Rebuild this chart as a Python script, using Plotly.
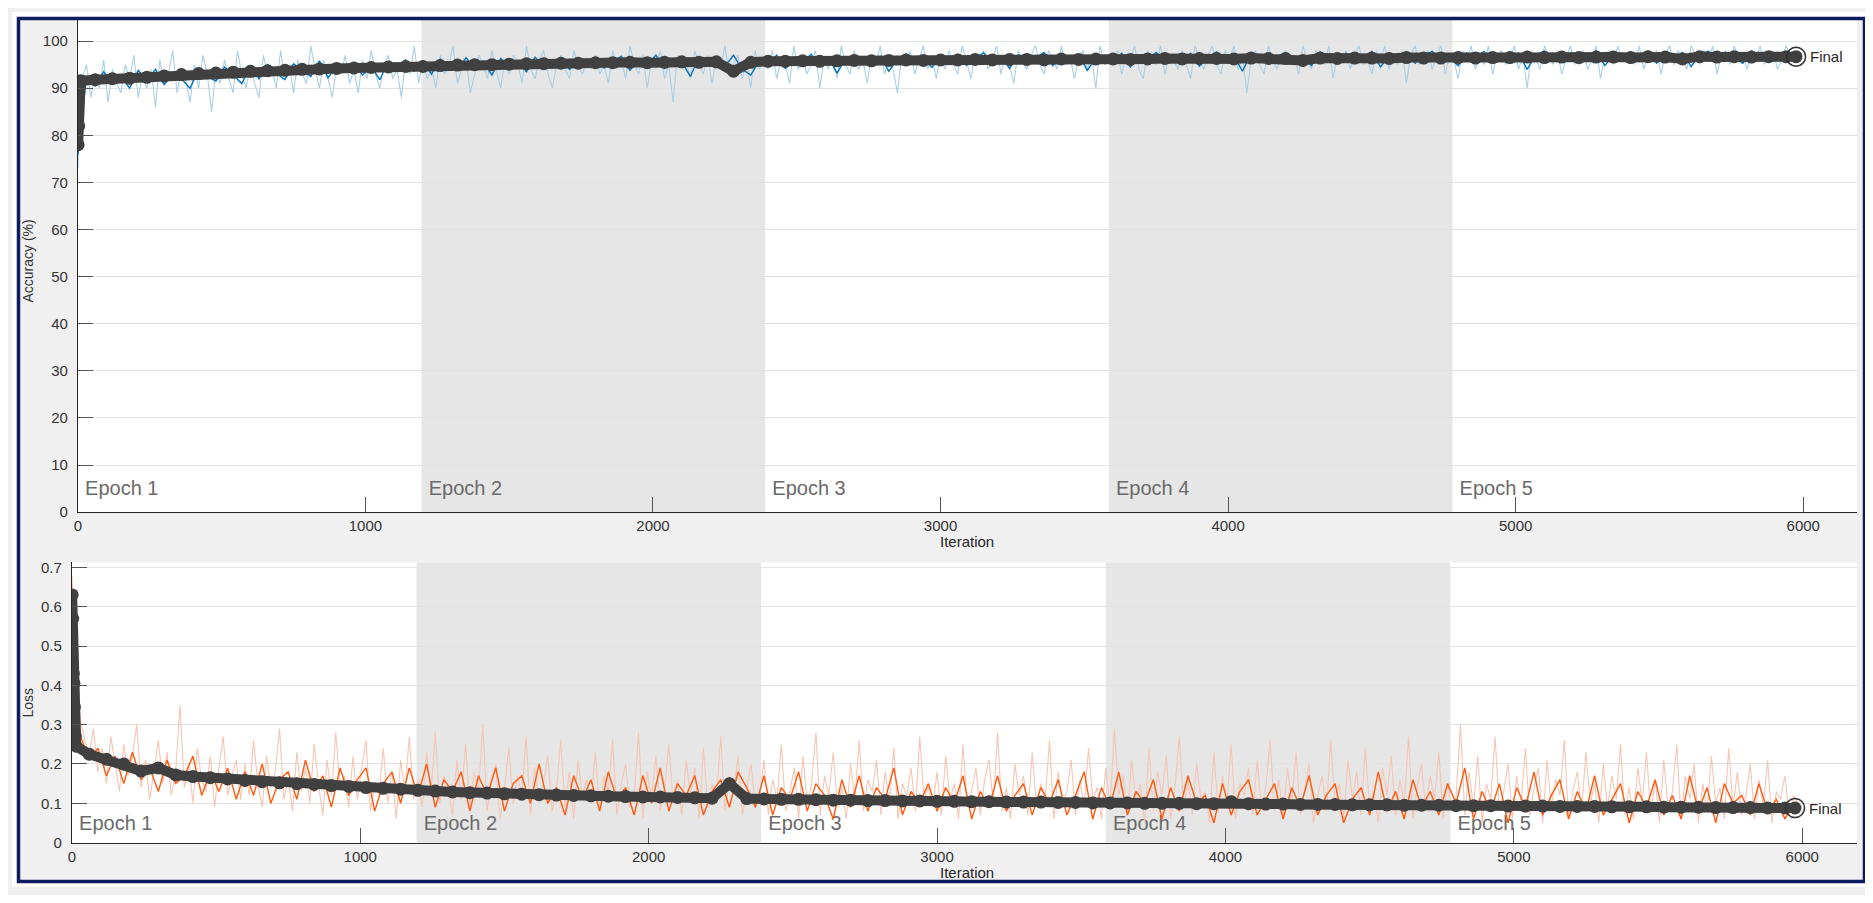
import plotly.graph_objects as go

# confini delle epoche (iterazioni)
epoch_start = [0, 1195, 2390, 3585, 4780]
epoch_end = 5975
epoch_names = ['Epoch 1', 'Epoch 2', 'Epoch 3', 'Epoch 4', 'Epoch 5']
raw_step = 15
smooth_step = 30

# accuratezza mini-batch (grezza), una ogni 15 iterazioni
acc_raw = [
    73, 92, 95, 88, 93, 90, 96, 87, 94, 91, 89, 95, 92, 97, 88, 93, 90, 94, 86, 96,
    91, 93, 98, 89, 94, 92, 87, 95, 90, 97, 93, 85, 94, 91, 96, 92, 89, 98, 93, 90,
    95, 91, 88, 97, 93, 94, 90, 98, 92, 95, 89, 96, 93, 91, 99, 94, 90, 96, 92, 88,
    95, 93, 97, 91, 94, 89, 96, 92, 98, 93, 90, 95, 97, 92, 94, 88, 96, 93, 99, 91,
    96, 92, 94, 90, 97, 93, 95, 99, 91, 94, 96, 89, 93, 97, 95, 92, 98, 94, 90, 96,
    93, 97, 95, 91, 99, 94, 92, 96, 98, 93, 90, 95, 97, 94, 92, 98, 95, 93, 96, 94,
    97, 93, 95, 91, 98, 94, 96, 92, 99, 95, 93, 97, 90, 96, 94, 98, 92, 95, 87, 97,
    94, 96, 92, 98, 95, 93, 97, 91, 96, 94, 99, 93, 95, 97, 92, 96, 90, 98, 94, 96,
    94, 98, 92, 96, 95, 91, 99, 94, 97, 93, 95, 98, 90, 96, 94, 97, 92, 99, 95, 93,
    98, 94, 96, 91, 97, 95, 99, 93, 96, 94, 89, 97, 95, 98, 93, 96, 99, 94, 97, 92,
    97, 94, 98, 95, 93, 99, 96, 92, 97, 95, 98, 94, 96, 99, 93, 97, 95, 91, 98, 96,
    94, 97, 99, 95, 93, 98, 96, 94, 99, 95, 97, 92, 96, 98, 94, 97, 90, 99, 95, 96,
    95, 98, 93, 97, 96, 99, 94, 92, 98, 96, 95, 99, 93, 97, 96, 94, 98, 95, 92, 99,
    96, 94, 97, 99, 95, 93, 98, 96, 99, 94, 97, 89, 96, 98, 95, 93, 99, 96, 94, 97,
    98, 95, 97, 93, 99, 96, 94, 98, 97, 95, 99, 92, 97, 96, 98, 94, 97, 99, 95, 96,
    93, 98, 96, 99, 94, 97, 95, 98, 91, 97, 99, 95, 96, 98, 94, 97, 99, 93, 97, 96,
    92, 98, 96, 99, 94, 97, 95, 99, 93, 97, 98, 95, 96, 99, 94, 97, 90, 98, 96, 94,
    99, 97, 95, 98, 93, 96, 99, 95, 97, 98, 94, 96, 99, 92, 97, 98, 95, 99, 96, 97,
    98, 95, 99, 94, 97, 96, 98, 93, 97, 99, 95, 98, 96, 94, 99, 97, 95, 98, 96, 99,
    93, 97, 98, 95, 99, 96, 97, 94, 98, 96, 99, 95, 97, 98, 94, 96, 99, 97, 96, 97,
]

# accuratezza mini-batch (smussata), una ogni 30 iterazioni
acc_smooth = [
    76, 92.5, 90.5, 93.5, 91, 92.5, 90, 93.8, 91.5, 94, 90.8, 93, 92, 90, 94, 92.5, 91.5, 94.5, 92.8, 91,
    94.5, 92, 95, 93.2, 91.8, 95.2, 93.8, 92.5, 95.8, 92.2, 94.8, 93.5, 95.5, 92.8, 94.6, 91.8, 95.6, 94, 96, 93.6,
    95.8, 93, 96.2, 94.5, 93.8, 96.5, 94.2, 95.6, 92.8, 96.3, 94.8, 95.9, 93.5, 96.6, 94.5, 95.5, 96.4, 94, 96, 95,
    96.5, 94.3, 95.6, 96.8, 93.8, 96.2, 95, 97, 94.2, 96, 95.6, 92.5, 96.5, 94.8, 96.2, 94.6, 97, 94, 92.8, 95.8,
    95, 97, 94.2, 96.2, 95.6, 97.2, 94.6, 96.6, 93.2, 96.3, 97, 95, 95.8, 96.8, 93.6, 96.2, 97.3, 95.2, 96.4, 94.4,
    96.8, 95.6, 97.2, 94.8, 96.4, 97.5, 95.4, 96.9, 94.2, 97.1, 95.8, 96.5, 97.6, 94.8, 96.9, 95.7, 97.3, 93.8, 96.4, 96.9,
    95.8, 97.4, 94.5, 96.9, 96.2, 97.6, 95.3, 96.9, 95.9, 97.4, 94.7, 96.5, 97.7, 95.8, 96.9, 93.6, 97.4, 96.3, 95.2, 96.9,
    97.4, 95.9, 96.9, 94.8, 97.7, 96.4, 95.4, 97.4, 96.9, 95.9, 97.8, 94.5, 96.9, 96.4, 97.5, 95.3, 96.9, 97.8, 95.9, 96.5,
    94.8, 97.5, 96.5, 97.8, 95.3, 97, 96, 97.5, 94, 97, 97.9, 95.9, 96.5, 97.5, 95.2, 97, 97.9, 94.8, 97, 96.5,
    97.5, 96, 97.9, 95.3, 97, 96.5, 97.6, 94.6, 97, 97.9, 96, 97.6, 96.5, 95.3, 97.9, 97, 96, 97.6, 96.5, 96.8,
]

# accuratezza di validazione
acc_val_iter = [1, 3, 10] + list(range(60, 5941, 60)) + [5975]
acc_val = [
    78, 82, 91.6,
    91.8, 92.0, 92.1, 92.3, 92.6, 92.9, 93.1, 93.2, 93.4, 93.6, 93.7, 93.8, 94.0, 94.1, 94.2, 94.3, 94.4, 94.5, 94.6,
    94.6, 94.8, 94.9, 95.0, 95.0, 95.1, 95.2, 95.2, 95.3, 95.3, 95.4, 95.4, 95.5, 95.4, 95.5, 95.6, 95.5, 95.6, 93.6, 95.5,
    95.7, 95.7, 95.8, 95.7, 95.8, 95.9, 95.8, 95.9, 96.0, 95.9, 96.0, 96.0, 96.1, 96.0, 96.1, 96.1, 96.0, 96.2, 96.1, 96.2,
    96.2, 96.1, 96.2, 96.3, 96.2, 96.3, 96.3, 96.2, 96.4, 96.3, 96.3, 95.9, 96.4, 96.3, 96.4, 96.4, 96.3, 96.5, 96.4, 96.4,
    96.5, 96.4, 96.5, 96.5, 96.6, 96.5, 96.6, 96.5, 96.6, 96.6, 96.5, 96.7, 96.6, 96.2, 96.7, 96.6, 96.7, 96.6, 96.7, 96.7,
    96.7,
]

# loss mini-batch (grezza), una ogni 15 iterazioni
loss_raw = [
    0.68, 0.45, 0.31, 0.26, 0.22, 0.29, 0.18, 0.24, 0.15, 0.27, 0.20, 0.13, 0.25, 0.17, 0.22, 0.30, 0.14, 0.21, 0.11, 0.19,
    0.26, 0.15, 0.23, 0.12, 0.18, 0.35, 0.14, 0.20, 0.10, 0.24, 0.16, 0.13, 0.22, 0.09, 0.19, 0.27, 0.12, 0.17, 0.21, 0.11,
    0.20, 0.12, 0.26, 0.15, 0.09, 0.22, 0.14, 0.18, 0.29, 0.11, 0.16, 0.08, 0.23, 0.13, 0.19, 0.10, 0.25, 0.15, 0.07, 0.21,
    0.12, 0.28, 0.14, 0.17, 0.09, 0.22, 0.11, 0.19, 0.26, 0.08, 0.15, 0.12, 0.24, 0.10, 0.18, 0.06, 0.21, 0.13, 0.27, 0.11,
    0.16, 0.09, 0.23, 0.12, 0.28, 0.10, 0.17, 0.14, 0.07, 0.21, 0.11, 0.25, 0.09, 0.18, 0.13, 0.30, 0.08, 0.16, 0.20, 0.06,
    0.14, 0.24, 0.10, 0.17, 0.12, 0.27, 0.07, 0.19, 0.11, 0.15, 0.22, 0.08, 0.13, 0.26, 0.09, 0.18, 0.06, 0.21, 0.12, 0.16,
    0.10, 0.23, 0.08, 0.17, 0.13, 0.26, 0.07, 0.15, 0.20, 0.09, 0.12, 0.28, 0.06, 0.18, 0.11, 0.22, 0.08, 0.14, 0.25, 0.10,
    0.16, 0.07, 0.21, 0.12, 0.19, 0.06, 0.24, 0.09, 0.15, 0.11, 0.27, 0.08, 0.17, 0.13, 0.22, 0.07, 0.14, 0.20, 0.09, 0.12,
    0.21, 0.07, 0.16, 0.11, 0.25, 0.08, 0.13, 0.19, 0.06, 0.22, 0.10, 0.15, 0.28, 0.07, 0.17, 0.12, 0.23, 0.09, 0.14, 0.06,
    0.20, 0.11, 0.26, 0.08, 0.16, 0.13, 0.21, 0.07, 0.18, 0.10, 0.24, 0.06, 0.15, 0.12, 0.19, 0.08, 0.27, 0.11, 0.14, 0.09,
    0.18, 0.07, 0.22, 0.11, 0.15, 0.06, 0.25, 0.09, 0.13, 0.19, 0.07, 0.16, 0.21, 0.10, 0.28, 0.08, 0.14, 0.06, 0.20, 0.12,
    0.17, 0.07, 0.23, 0.09, 0.15, 0.11, 0.26, 0.06, 0.18, 0.10, 0.13, 0.21, 0.07, 0.16, 0.09, 0.24, 0.11, 0.14, 0.06, 0.19,
    0.09, 0.29, 0.12, 0.17, 0.07, 0.21, 0.10, 0.15, 0.05, 0.24, 0.08, 0.18, 0.12, 0.22, 0.06, 0.14, 0.27, 0.09, 0.16, 0.07,
    0.20, 0.11, 0.13, 0.05, 0.23, 0.08, 0.17, 0.10, 0.25, 0.06, 0.15, 0.12, 0.19, 0.07, 0.21, 0.09, 0.14, 0.26, 0.08, 0.16,
    0.06, 0.19, 0.10, 0.23, 0.07, 0.14, 0.20, 0.05, 0.12, 0.17, 0.08, 0.26, 0.10, 0.15, 0.06, 0.21, 0.11, 0.18, 0.07, 0.24,
    0.09, 0.13, 0.05, 0.19, 0.12, 0.22, 0.07, 0.16, 0.10, 0.27, 0.06, 0.14, 0.20, 0.08, 0.17, 0.11, 0.23, 0.06, 0.15, 0.09,
    0.12, 0.30, 0.07, 0.18, 0.09, 0.22, 0.05, 0.15, 0.11, 0.27, 0.08, 0.13, 0.20, 0.06, 0.17, 0.10, 0.24, 0.07, 0.14, 0.19,
    0.05, 0.21, 0.09, 0.16, 0.12, 0.26, 0.06, 0.13, 0.18, 0.08, 0.23, 0.10, 0.15, 0.05, 0.20, 0.09, 0.17, 0.11, 0.25, 0.07,
    0.14, 0.06, 0.19, 0.10, 0.23, 0.07, 0.16, 0.05, 0.21, 0.09, 0.13, 0.25, 0.06, 0.17, 0.11, 0.20, 0.05, 0.15, 0.08, 0.22,
    0.10, 0.14, 0.06, 0.24, 0.09, 0.18, 0.07, 0.12, 0.20, 0.06, 0.16, 0.09, 0.21, 0.05, 0.13, 0.11, 0.17, 0.07, 0.12, 0.10,
]

# loss mini-batch (smussata), una ogni 30 iterazioni
loss_smooth = [
    0.62, 0.27, 0.21, 0.24, 0.17, 0.22, 0.15, 0.23, 0.16, 0.19, 0.13, 0.21, 0.15, 0.17, 0.22, 0.12, 0.18, 0.13, 0.19, 0.11,
    0.18, 0.12, 0.20, 0.10, 0.16, 0.18, 0.11, 0.21, 0.13, 0.17, 0.09, 0.19, 0.12, 0.16, 0.19, 0.08, 0.15, 0.18, 0.10, 0.19,
    0.12, 0.20, 0.09, 0.16, 0.13, 0.18, 0.08, 0.17, 0.12, 0.19, 0.08, 0.15, 0.17, 0.10, 0.20, 0.10, 0.14, 0.07, 0.17, 0.11,
    0.16, 0.08, 0.18, 0.11, 0.14, 0.07, 0.17, 0.10, 0.19, 0.08, 0.15, 0.12, 0.17, 0.07, 0.13, 0.16, 0.09, 0.18, 0.14, 0.09,
    0.17, 0.07, 0.14, 0.11, 0.18, 0.08, 0.15, 0.12, 0.06, 0.16, 0.09, 0.17, 0.08, 0.14, 0.11, 0.19, 0.07, 0.13, 0.10, 0.15,
    0.08, 0.14, 0.10, 0.17, 0.06, 0.13, 0.09, 0.17, 0.08, 0.12, 0.15, 0.07, 0.14, 0.10, 0.16, 0.07, 0.12, 0.18, 0.06, 0.14,
    0.09, 0.18, 0.07, 0.13, 0.10, 0.16, 0.06, 0.14, 0.08, 0.17, 0.10, 0.12, 0.05, 0.15, 0.07, 0.13, 0.16, 0.07, 0.11, 0.15,
    0.06, 0.14, 0.09, 0.17, 0.07, 0.12, 0.15, 0.05, 0.11, 0.14, 0.07, 0.18, 0.08, 0.13, 0.06, 0.16, 0.09, 0.13, 0.07, 0.15,
    0.10, 0.19, 0.06, 0.13, 0.08, 0.15, 0.05, 0.14, 0.09, 0.18, 0.07, 0.12, 0.16, 0.06, 0.13, 0.08, 0.17, 0.07, 0.11, 0.15,
    0.05, 0.13, 0.09, 0.16, 0.07, 0.12, 0.06, 0.17, 0.08, 0.14, 0.05, 0.15, 0.10, 0.12, 0.07, 0.15, 0.08, 0.11, 0.06, 0.10,
]

# loss di validazione
loss_val_iter = [1, 3, 5, 7, 9, 12, 15] + list(range(60, 5941, 60)) + [5975]
loss_val = [
    0.63, 0.57, 0.43, 0.405, 0.345, 0.27, 0.245,
    0.225, 0.212, 0.200, 0.182, 0.190, 0.172, 0.168, 0.165, 0.162, 0.158, 0.155, 0.152, 0.150, 0.148, 0.145, 0.143, 0.140, 0.138, 0.136,
    0.133, 0.131, 0.129, 0.127, 0.126, 0.124, 0.123, 0.122, 0.121, 0.120, 0.119, 0.118, 0.117, 0.116, 0.116, 0.115, 0.114, 0.113, 0.150, 0.112,
    0.111, 0.110, 0.110, 0.109, 0.108, 0.108, 0.107, 0.107, 0.106, 0.106, 0.105, 0.105, 0.104, 0.104, 0.103, 0.103, 0.103, 0.102, 0.102, 0.101,
    0.101, 0.101, 0.100, 0.100, 0.100, 0.099, 0.099, 0.104, 0.099, 0.098, 0.098, 0.097, 0.097, 0.097, 0.096, 0.096, 0.096, 0.095, 0.095, 0.095,
    0.094, 0.094, 0.094, 0.093, 0.093, 0.093, 0.092, 0.092, 0.092, 0.091, 0.091, 0.091, 0.090, 0.090, 0.090, 0.089, 0.089, 0.089, 0.088, 0.088,
    0.088,
]

x_ticks = [0, 1000, 2000, 3000, 4000, 5000, 6000]
acc_ticks = [0, 10, 20, 30, 40, 50, 60, 70, 80, 90, 100]
loss_ticks = [0, 0.1, 0.2, 0.3, 0.4, 0.5, 0.6, 0.7]

# la pagina ha 8 px di margine: la figura occupa il resto della finestra
OFF = 8
W, H = 1873 - 2 * OFF, 903 - 2 * OFF
FONT = 'Liberation Sans, Arial, sans-serif'
DARK = '#404040'


def px(x):
    return (x - OFF) / W


def py(y):
    return 1 - (y - OFF) / H


fig = go.Figure()

# pannello superiore (accuratezza) e inferiore (loss)
panels = [
    dict(xa='x', ya='y', raw=acc_raw, smooth=acc_smooth, vx=acc_val_iter, vy=acc_val,
         light='#a9cfe6', strong='#0072bd', label_y=4.6),
    dict(xa='x2', ya='y2', raw=loss_raw, smooth=loss_smooth, vx=loss_val_iter, vy=loss_val,
         light='#f6c5b3', strong='#ff5a0f', label_y=0.044),
]

for p in panels:
    # etichette delle epoche dietro ai dati
    fig.add_trace(go.Scatter(
        x=[s + 25 for s in epoch_start], y=[p['label_y']] * len(epoch_start),
        mode='text', text=epoch_names, textposition='middle right',
        textfont=dict(family=FONT, size=20, color='#6a6a6a'),
        xaxis=p['xa'], yaxis=p['ya'], showlegend=False, hoverinfo='skip'))
    fig.add_trace(go.Scatter(
        x=list(range(0, raw_step * len(p['raw']), raw_step)), y=p['raw'],
        mode='lines', line=dict(color=p['light'], width=1.1),
        xaxis=p['xa'], yaxis=p['ya'], showlegend=False))
    fig.add_trace(go.Scatter(
        x=list(range(0, smooth_step * len(p['smooth']), smooth_step)), y=p['smooth'],
        mode='lines', line=dict(color=p['strong'], width=1.4),
        xaxis=p['xa'], yaxis=p['ya'], showlegend=False))
    fig.add_trace(go.Scatter(
        x=p['vx'], y=p['vy'], mode='lines+markers',
        line=dict(color=DARK, width=10), marker=dict(color=DARK, size=13),
        xaxis=p['xa'], yaxis=p['ya'], showlegend=False))
    # punto finale
    fig.add_trace(go.Scatter(
        x=[p['vx'][-1]], y=[p['vy'][-1]], mode='markers',
        marker=dict(symbol='circle-open', size=19, color='#303030', line=dict(width=1.5)),
        xaxis=p['xa'], yaxis=p['ya'], showlegend=False))
    fig.add_annotation(x=p['vx'][-1], y=p['vy'][-1], xref=p['xa'], yref=p['ya'],
                       text='Final', showarrow=False, xanchor='left', yanchor='middle', xshift=12,
                       font=dict(family=FONT, size=15, color='#262626'))

# zone grigie per le epoche pari
shapes = []
for xa, ya in [('x', 'y'), ('x2', 'y2')]:
    for i in [1, 3]:
        end = epoch_start[i + 1] if i + 1 < len(epoch_start) else epoch_end
        shapes.append(dict(type='rect', xref=xa, yref=ya + ' domain', x0=epoch_start[i], x1=end,
                           y0=0, y1=1, fillcolor='#e6e6e6', line=dict(width=0), layer='below'))

# cornice blu e margine bianco esterno
shapes += [
    dict(type='rect', xref='paper', yref='paper', x0=0, x1=1, y0=py(891), y1=0,
         fillcolor='white', line=dict(width=0), layer='above'),
    dict(type='rect', xref='paper', yref='paper', x0=0, x1=1, y0=1, y1=py(13),
         fillcolor='white', line=dict(width=0), layer='above'),
    dict(type='rect', xref='paper', yref='paper', x0=0, x1=px(13), y0=0, y1=1,
         fillcolor='white', line=dict(width=0), layer='above'),
    dict(type='rect', xref='paper', yref='paper', x0=px(1866), x1=1, y0=0, y1=1,
         fillcolor='white', line=dict(width=0), layer='above'),
    dict(type='rect', xref='paper', yref='paper', x0=px(14.5), x1=px(1864.5), y0=py(889.5), y1=py(14.5),
         line=dict(color='#0c1c5e', width=3.5), layer='above'),
]

axis_common = dict(ticks='inside', ticklen=15, tickcolor='#555555', showline=True,
                   linecolor='#262626', linewidth=1, zeroline=False,
                   tickfont=dict(family=FONT, size=15, color='#333333'))

fig.update_layout(
    width=W, height=H, autosize=False,
    margin=dict(l=0, r=0, t=0, b=0),
    paper_bgcolor='#f0f0f0', plot_bgcolor='white',
    shapes=shapes,
    xaxis=dict(domain=[px(74), px(1857)], range=[0, 6187], tickvals=x_ticks,
               showgrid=False, anchor='y', **axis_common),
    yaxis=dict(domain=[py(515), py(16)], range=[0, 104.5], tickvals=acc_ticks,
               showgrid=True, gridcolor='#e2e2e2', anchor='x', ticklabelstandoff=6, **axis_common),
    xaxis2=dict(domain=[px(68), px(1857)], range=[0, 6190], tickvals=x_ticks,
                showgrid=False, anchor='y2', **axis_common),
    yaxis2=dict(domain=[py(850), py(566)], range=[0, 0.7125], tickvals=loss_ticks,
                showgrid=True, gridcolor='#e2e2e2', anchor='x2', ticklabelstandoff=6, **axis_common),
)

# titoli degli assi
title_font = dict(family=FONT, size=15, color='#262626')
side_font = dict(family=FONT, size=14, color='#333333')
for text, x, y, angle, font in [('Iteration', 965, 545, 0, title_font),
                                ('Iteration', 965, 880, 0, title_font),
                                ('Accuracy (%)', 24, 260, -90, side_font),
                                ('Loss', 24, 708, -90, side_font)]:
    fig.add_annotation(x=px(x), y=py(y), xref='paper', yref='paper', text=text,
                       showarrow=False, textangle=angle, xanchor='center', yanchor='middle',
                       font=font)

fig.write_html("out.html", config={'displayModeBar': False})
